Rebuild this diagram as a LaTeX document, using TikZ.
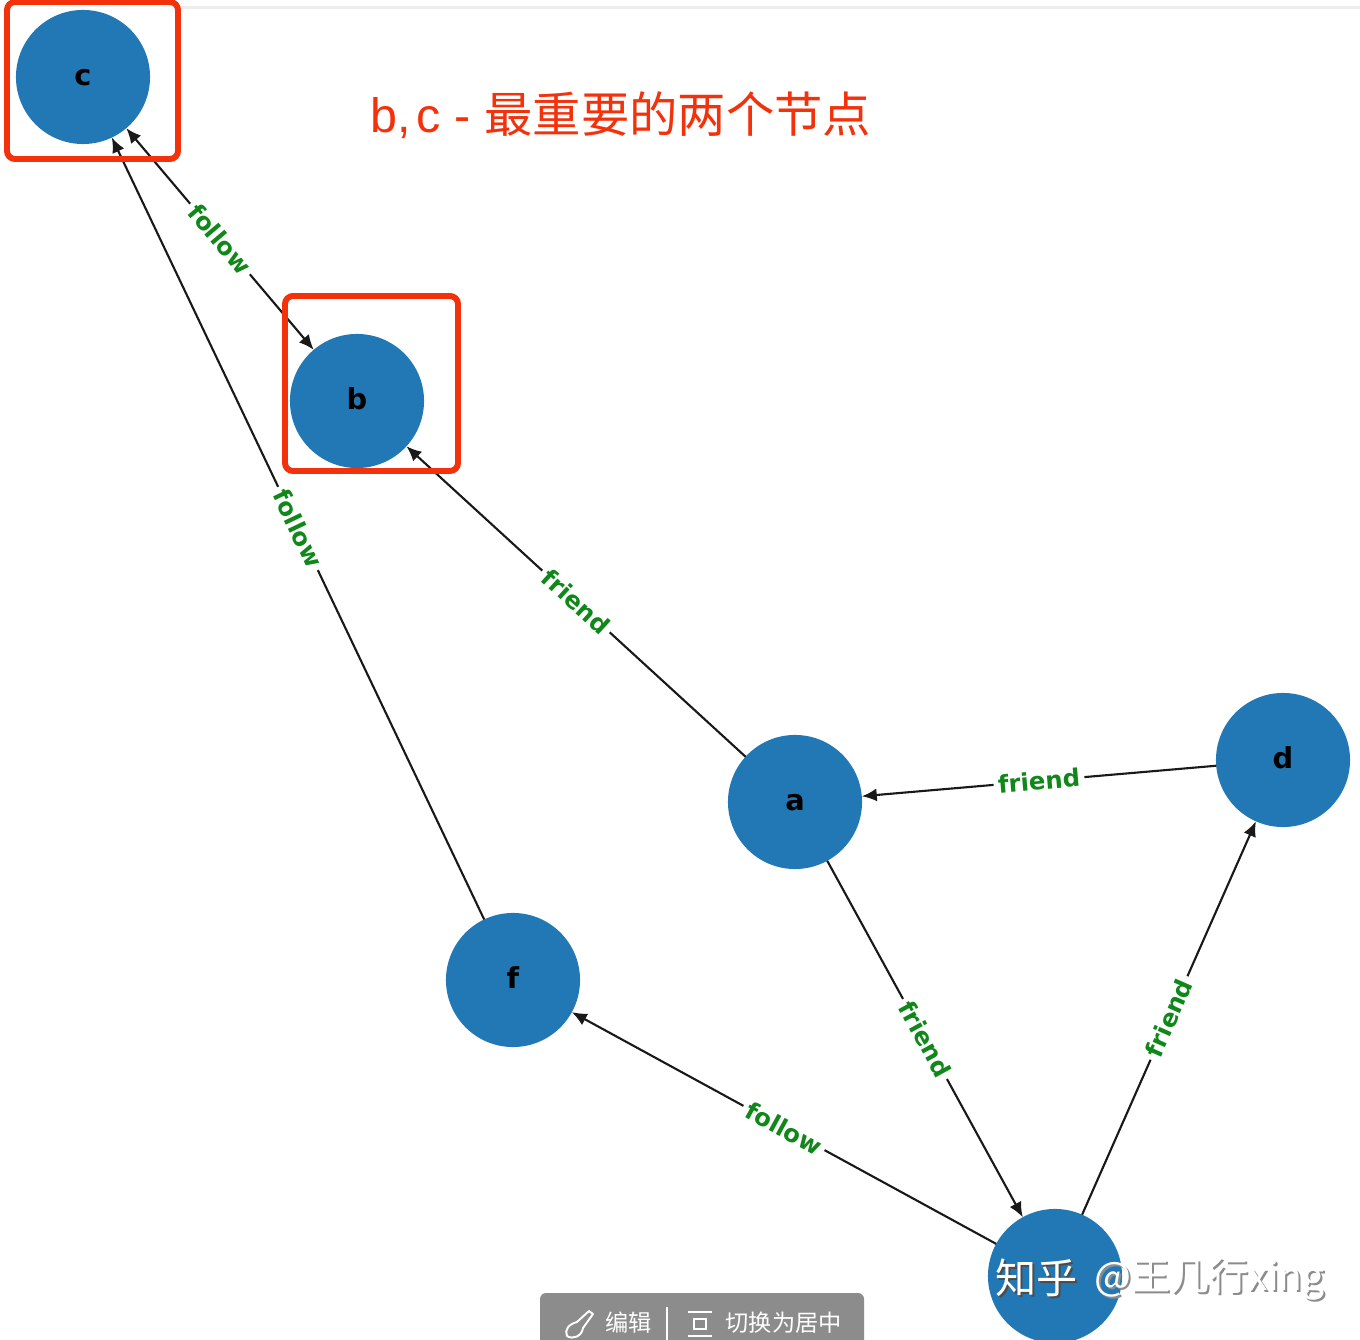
\documentclass[tikz,border=0pt]{standalone}
\usepackage{fontspec}
\setmainfont{DejaVu Sans}
\newfontfamily\cjk{Noto Sans CJK SC}
\newfontfamily\latinfont{Liberation Sans}
\usetikzlibrary{arrows.meta}
\definecolor{nodeblue}{RGB}{33,120,180}
\definecolor{markred}{RGB}{243,50,12}
\definecolor{edgegreen}{RGB}{15,135,25}
\definecolor{barfill}{RGB}{140,140,140}
\tikzset{>=Latex}
\begin{document}
\begin{tikzpicture}[x=0.01cm, y=-0.01cm]
            \tikzset{vertex/.style = {circle, fill=nodeblue, minimum size=1.34cm, inner sep=0, outer sep=0, text height=0.17cm, text depth=0pt, font=\bfseries\fontsize{8.2}{10}\selectfont}}
            \tikzset{edge/.style = {draw=black!90, line width=0.6pt, -{Latex[length=0.15cm, width=0.13cm]}}}
            \tikzset{rel/.style = {sloped, fill=white, text=edgegreen, inner sep=1.3pt, font=\bfseries\fontsize{6.9}{9}\selectfont}}
            \tikzset{markbox/.style = {draw=markred, line width=1.7pt, rounded corners=0.08cm}}
            \tikzset{marktext/.style = {text=markred, inner sep=0, font=\fontsize{13.75}{16}\selectfont}}
            \tikzset{barlabel/.style = {text=white, inner sep=0, font=\cjk\fontsize{6.6}{8}\selectfont}}
            \useasboundingbox[fill=white] (0, 0) rectangle (1360, 1340);
            \fill[black!7] (180, 6) rectangle (1360, 9);
            % graph
            \node[vertex] (c) at (83, 77) {c};
            \node[vertex] (b) at (357, 401) {b};
            \node[vertex] (a) at (795, 802) {a};
            \node[vertex] (d) at (1283, 760) {d};
            \node[vertex] (f) at (513, 980) {f};
            \node[vertex] (e) at (1055, 1276) {};
            \draw[edge, {Latex[length=0.15cm, width=0.13cm]}-{Latex[length=0.15cm, width=0.13cm]}] (c) -- node[rel] {follow} (b);
            \draw[edge] (f) -- node[rel] {follow} (c);
            \draw[edge] (a) -- node[rel] {friend} (b);
            \draw[edge] (d) -- node[rel] {friend} (a);
            \draw[edge] (a) -- node[rel] {friend} (e);
            \draw[edge] (e) -- node[rel] {friend} (d);
            \draw[edge] (e) -- node[rel] {follow} (f);
            % marks
            \draw[markbox] (7, 2) rectangle (178, 159);
            \draw[markbox] (285, 296) rectangle (458, 471);
            \node[marktext, anchor=west] (title) at (370, 115) {\latinfont b,\hspace{0.05cm}c\hspace{0.14cm}-\hspace{0.14cm}\cjk 最重要的两个节点};
            % watermark
            \node[inner sep=0, anchor=west, text=black!70, font=\cjk\fontsize{11.7}{14}\selectfont] (zhihushadow) at (997, 1280) {知乎};
            \node[inner sep=0, anchor=west, text=white, font=\cjk\fontsize{11.7}{14}\selectfont] (zhihu) at (995, 1278) {知乎};
            \node[inner sep=0, anchor=west, text=black!45, font=\cjk\fontsize{11.1}{13}\selectfont] (authorshadow) at (1096, 1281) {@王几行xing};
            \node[inner sep=0, anchor=west, text=white, font=\cjk\fontsize{11.1}{13}\selectfont] (author) at (1094, 1279) {@王几行xing};
            % toolbar
            \fill[barfill, rounded corners=0.06cm] (540, 1360) rectangle (864, 1293);
            \draw[white, line width=0.3pt] (667, 1307) -- (667, 1340);
            \node[barlabel, anchor=west] (edit) at (605, 1323) {编辑};
            \node[barlabel, anchor=west] (center) at (725, 1323) {切换为居中};
            \draw[white, line width=0.55pt, line join=round] (589, 1311) -- (577, 1322) .. controls (569, 1324) and (564, 1330) .. (567, 1336) .. controls (573, 1340) and (582, 1336) .. (583, 1328) -- (593, 1314) -- cycle;
            \draw[white, line width=0.55pt] (688, 1312) -- (712, 1312) (688, 1336) -- (712, 1336);
            \draw[white, line width=0.55pt] (694, 1319) rectangle (706, 1329);
\end{tikzpicture}
\end{document}
